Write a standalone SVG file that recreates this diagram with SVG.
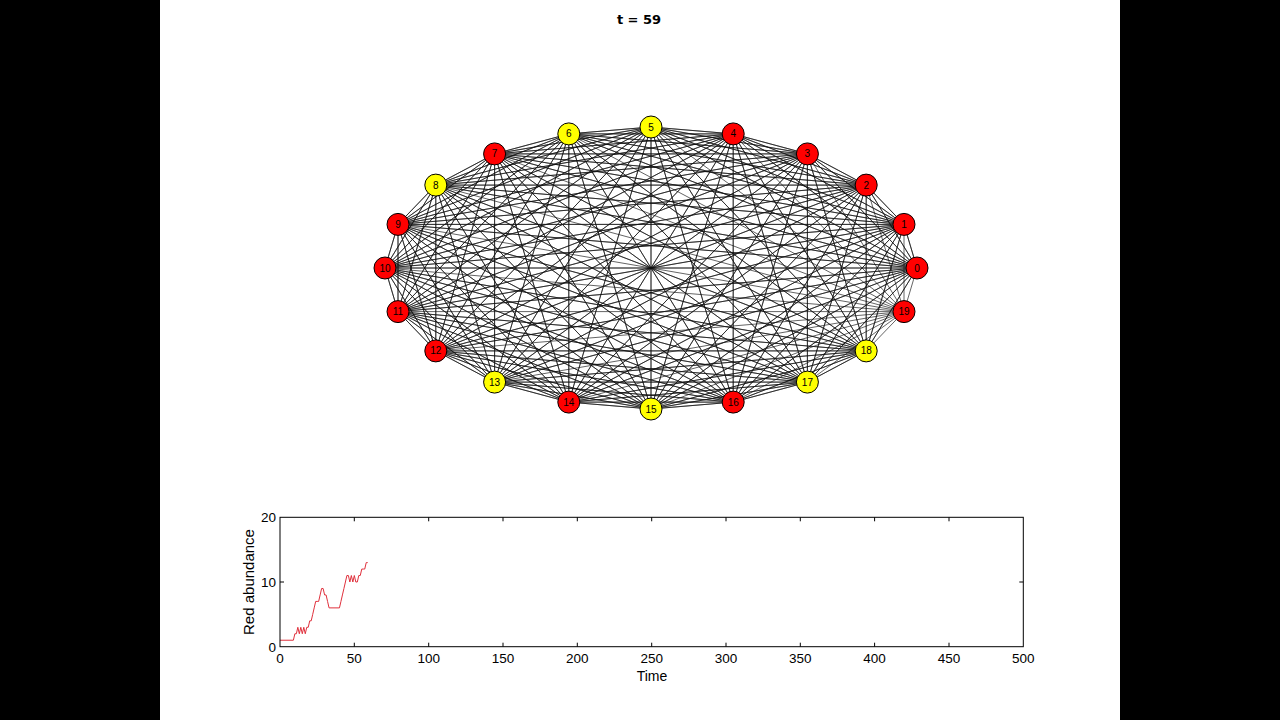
<svg xmlns="http://www.w3.org/2000/svg" width="1280" height="720" viewBox="0 0 1280 720">
<style>
.edge{fill:none;stroke:#111;stroke-width:0.65;stroke-linejoin:round}
.node circle{stroke:#000;stroke-width:1}
.red circle{fill:#ff0000}
.yellow circle{fill:#ffff00}
.node text{font-family:"Liberation Sans",Arial,sans-serif;font-size:10px;fill:#000;text-anchor:middle}
.tick{stroke:#000;stroke-width:1}
.lbl{font-family:"Liberation Sans",Arial,sans-serif;font-size:13.5px;fill:#000}
</style>
<rect x="0" y="0" width="1280" height="720" fill="#000"/>
<rect x="160" y="0" width="960" height="720" fill="#fff"/>
<text x="639" y="24" text-anchor="middle" font-family="DejaVu Sans, sans-serif" font-weight="bold" font-size="13">t = 59</text>
<g id="connectors">
<path class="edge" d="M917,268L904,224.4 917,268 866.2,185.1 917,268 807.4,153.9 917,268 733.2,133.9 917,268 651,127 917,268 568.8,133.9 917,268 494.6,153.9 917,268 435.8,185.1 917,268 398,224.4 917,268 385,268 917,268 398,311.6 917,268 435.8,350.9 917,268 494.6,382.1 917,268 568.8,402.1 917,268 651,409 917,268 733.2,402.1 917,268 807.4,382.1 917,268 866.2,350.9 917,268 904,311.6"/>
<path class="edge" d="M904,224.4L866.2,185.1 904,224.4 807.4,153.9 904,224.4 733.2,133.9 904,224.4 651,127 904,224.4 568.8,133.9 904,224.4 494.6,153.9 904,224.4 435.8,185.1 904,224.4 398,224.4 904,224.4 385,268 904,224.4 398,311.6 904,224.4 435.8,350.9 904,224.4 494.6,382.1 904,224.4 568.8,402.1 904,224.4 651,409 904,224.4 733.2,402.1 904,224.4 807.4,382.1 904,224.4 866.2,350.9 904,224.4 904,311.6"/>
<path class="edge" d="M866.2,185.1L807.4,153.9 866.2,185.1 733.2,133.9 866.2,185.1 651,127 866.2,185.1 568.8,133.9 866.2,185.1 494.6,153.9 866.2,185.1 435.8,185.1 866.2,185.1 398,224.4 866.2,185.1 385,268 866.2,185.1 398,311.6 866.2,185.1 435.8,350.9 866.2,185.1 494.6,382.1 866.2,185.1 568.8,402.1 866.2,185.1 651,409 866.2,185.1 733.2,402.1 866.2,185.1 807.4,382.1 866.2,185.1 866.2,350.9 866.2,185.1 904,311.6"/>
<path class="edge" d="M807.4,153.9L733.2,133.9 807.4,153.9 651,127 807.4,153.9 568.8,133.9 807.4,153.9 494.6,153.9 807.4,153.9 435.8,185.1 807.4,153.9 398,224.4 807.4,153.9 385,268 807.4,153.9 398,311.6 807.4,153.9 435.8,350.9 807.4,153.9 494.6,382.1 807.4,153.9 568.8,402.1 807.4,153.9 651,409 807.4,153.9 733.2,402.1 807.4,153.9 807.4,382.1 807.4,153.9 866.2,350.9 807.4,153.9 904,311.6"/>
<path class="edge" d="M733.2,133.9L651,127 733.2,133.9 568.8,133.9 733.2,133.9 494.6,153.9 733.2,133.9 435.8,185.1 733.2,133.9 398,224.4 733.2,133.9 385,268 733.2,133.9 398,311.6 733.2,133.9 435.8,350.9 733.2,133.9 494.6,382.1 733.2,133.9 568.8,402.1 733.2,133.9 651,409 733.2,133.9 733.2,402.1 733.2,133.9 807.4,382.1 733.2,133.9 866.2,350.9 733.2,133.9 904,311.6"/>
<path class="edge" d="M651,127L568.8,133.9 651,127 494.6,153.9 651,127 435.8,185.1 651,127 398,224.4 651,127 385,268 651,127 398,311.6 651,127 435.8,350.9 651,127 494.6,382.1 651,127 568.8,402.1 651,127 651,409 651,127 733.2,402.1 651,127 807.4,382.1 651,127 866.2,350.9 651,127 904,311.6"/>
<path class="edge" d="M568.8,133.9L494.6,153.9 568.8,133.9 435.8,185.1 568.8,133.9 398,224.4 568.8,133.9 385,268 568.8,133.9 398,311.6 568.8,133.9 435.8,350.9 568.8,133.9 494.6,382.1 568.8,133.9 568.8,402.1 568.8,133.9 651,409 568.8,133.9 733.2,402.1 568.8,133.9 807.4,382.1 568.8,133.9 866.2,350.9 568.8,133.9 904,311.6"/>
<path class="edge" d="M494.6,153.9L435.8,185.1 494.6,153.9 398,224.4 494.6,153.9 385,268 494.6,153.9 398,311.6 494.6,153.9 435.8,350.9 494.6,153.9 494.6,382.1 494.6,153.9 568.8,402.1 494.6,153.9 651,409 494.6,153.9 733.2,402.1 494.6,153.9 807.4,382.1 494.6,153.9 866.2,350.9 494.6,153.9 904,311.6"/>
<path class="edge" d="M435.8,185.1L398,224.4 435.8,185.1 385,268 435.8,185.1 398,311.6 435.8,185.1 435.8,350.9 435.8,185.1 494.6,382.1 435.8,185.1 568.8,402.1 435.8,185.1 651,409 435.8,185.1 733.2,402.1 435.8,185.1 807.4,382.1 435.8,185.1 866.2,350.9 435.8,185.1 904,311.6"/>
<path class="edge" d="M398,224.4L385,268 398,224.4 398,311.6 398,224.4 435.8,350.9 398,224.4 494.6,382.1 398,224.4 568.8,402.1 398,224.4 651,409 398,224.4 733.2,402.1 398,224.4 807.4,382.1 398,224.4 866.2,350.9 398,224.4 904,311.6"/>
<path class="edge" d="M385,268L398,311.6 385,268 435.8,350.9 385,268 494.6,382.1 385,268 568.8,402.1 385,268 651,409 385,268 733.2,402.1 385,268 807.4,382.1 385,268 866.2,350.9 385,268 904,311.6"/>
<path class="edge" d="M398,311.6L435.8,350.9 398,311.6 494.6,382.1 398,311.6 568.8,402.1 398,311.6 651,409 398,311.6 733.2,402.1 398,311.6 807.4,382.1 398,311.6 866.2,350.9 398,311.6 904,311.6"/>
<path class="edge" d="M435.8,350.9L494.6,382.1 435.8,350.9 568.8,402.1 435.8,350.9 651,409 435.8,350.9 733.2,402.1 435.8,350.9 807.4,382.1 435.8,350.9 866.2,350.9 435.8,350.9 904,311.6"/>
<path class="edge" d="M494.6,382.1L568.8,402.1 494.6,382.1 651,409 494.6,382.1 733.2,402.1 494.6,382.1 807.4,382.1 494.6,382.1 866.2,350.9 494.6,382.1 904,311.6"/>
<path class="edge" d="M568.8,402.1L651,409 568.8,402.1 733.2,402.1 568.8,402.1 807.4,382.1 568.8,402.1 866.2,350.9 568.8,402.1 904,311.6"/>
<path class="edge" d="M651,409L733.2,402.1 651,409 807.4,382.1 651,409 866.2,350.9 651,409 904,311.6"/>
<path class="edge" d="M733.2,402.1L807.4,382.1 733.2,402.1 866.2,350.9 733.2,402.1 904,311.6"/>
<path class="edge" d="M807.4,382.1L866.2,350.9 807.4,382.1 904,311.6"/>
<path class="edge" d="M866.2,350.9L904,311.6"/>
</g>
<g id="node-0" class="node red"><circle cx="917" cy="268" r="11"/><text x="917" y="271.5">0</text></g>
<g id="node-1" class="node red"><circle cx="904" cy="224.4" r="11"/><text x="904" y="227.9">1</text></g>
<g id="node-2" class="node red"><circle cx="866.2" cy="185.1" r="11"/><text x="866.2" y="188.6">2</text></g>
<g id="node-3" class="node red"><circle cx="807.4" cy="153.9" r="11"/><text x="807.4" y="157.4">3</text></g>
<g id="node-4" class="node red"><circle cx="733.2" cy="133.9" r="11"/><text x="733.2" y="137.4">4</text></g>
<g id="node-5" class="node yellow"><circle cx="651" cy="127" r="11"/><text x="651" y="130.5">5</text></g>
<g id="node-6" class="node yellow"><circle cx="568.8" cy="133.9" r="11"/><text x="568.8" y="137.4">6</text></g>
<g id="node-7" class="node red"><circle cx="494.6" cy="153.9" r="11"/><text x="494.6" y="157.4">7</text></g>
<g id="node-8" class="node yellow"><circle cx="435.8" cy="185.1" r="11"/><text x="435.8" y="188.6">8</text></g>
<g id="node-9" class="node red"><circle cx="398" cy="224.4" r="11"/><text x="398" y="227.9">9</text></g>
<g id="node-10" class="node red"><circle cx="385" cy="268" r="11"/><text x="385" y="271.5">10</text></g>
<g id="node-11" class="node red"><circle cx="398" cy="311.6" r="11"/><text x="398" y="315.1">11</text></g>
<g id="node-12" class="node red"><circle cx="435.8" cy="350.9" r="11"/><text x="435.8" y="354.4">12</text></g>
<g id="node-13" class="node yellow"><circle cx="494.6" cy="382.1" r="11"/><text x="494.6" y="385.6">13</text></g>
<g id="node-14" class="node red"><circle cx="568.8" cy="402.1" r="11"/><text x="568.8" y="405.6">14</text></g>
<g id="node-15" class="node yellow"><circle cx="651" cy="409" r="11"/><text x="651" y="412.5">15</text></g>
<g id="node-16" class="node red"><circle cx="733.2" cy="402.1" r="11"/><text x="733.2" y="405.6">16</text></g>
<g id="node-17" class="node yellow"><circle cx="807.4" cy="382.1" r="11"/><text x="807.4" y="385.6">17</text></g>
<g id="node-18" class="node yellow"><circle cx="866.2" cy="350.9" r="11"/><text x="866.2" y="354.4">18</text></g>
<g id="node-19" class="node red"><circle cx="904" cy="311.6" r="11"/><text x="904" y="315.1">19</text></g>
<g id="chart">
<g transform="translate(280,646.7) scale(1.4866,-6.47)">
<polyline fill="none" stroke="#e0303c" stroke-width="1" vector-effect="non-scaling-stroke" stroke-linejoin="round" points="0,1 9,1 10,2 11,2 12,3 13,2 14,3 15,2 16,3 17,2 18,3 19,3 20,4 21,4 22,5 23,6 24,7 25,7 26,7 27,8 28,9 29,9 30,8 31,8 32,7 33,6 40,6 41,7 42,8 43,9 44,10 45,11 46,11 47,10 48,11 49,10 50,11 51,10 52,10 53,11 54,11 55,12 56,12 57,12 58,13 59,13"/>
</g>
<rect x="280" y="517.3" width="743.3" height="129.4" fill="none" stroke="#000" stroke-width="1"/>
<path class="tick" d="M354.3,646.7v-4M428.7,646.7v-4M503,646.7v-4M577.3,646.7v-4M651.7,646.7v-4M726,646.7v-4M800.3,646.7v-4M874.6,646.7v-4M949,646.7v-4M354.3,517.3v4M428.7,517.3v4M503,517.3v4M577.3,517.3v4M651.7,517.3v4M726,517.3v4M800.3,517.3v4M874.6,517.3v4M949,517.3v4M280,582h4M1023.3,582h-4"/>
<g class="lbl" text-anchor="middle">
<text x="280" y="663">0</text><text x="354.3" y="663">50</text><text x="428.7" y="663">100</text><text x="503" y="663">150</text><text x="577.3" y="663">200</text><text x="651.7" y="663">250</text><text x="726" y="663">300</text><text x="800.3" y="663">350</text><text x="874.6" y="663">400</text><text x="949" y="663">450</text><text x="1023.3" y="663">500</text>
<text x="652" y="681" font-size="14">Time</text>
</g>
<g class="lbl" text-anchor="end">
<text x="276" y="522">20</text><text x="276" y="587">10</text><text x="276" y="652">0</text>
</g>
<text class="lbl" text-anchor="middle" font-size="15" style="font-size:15px" transform="translate(254,582) rotate(-90)">Red abundance</text>
</g>
</svg>
